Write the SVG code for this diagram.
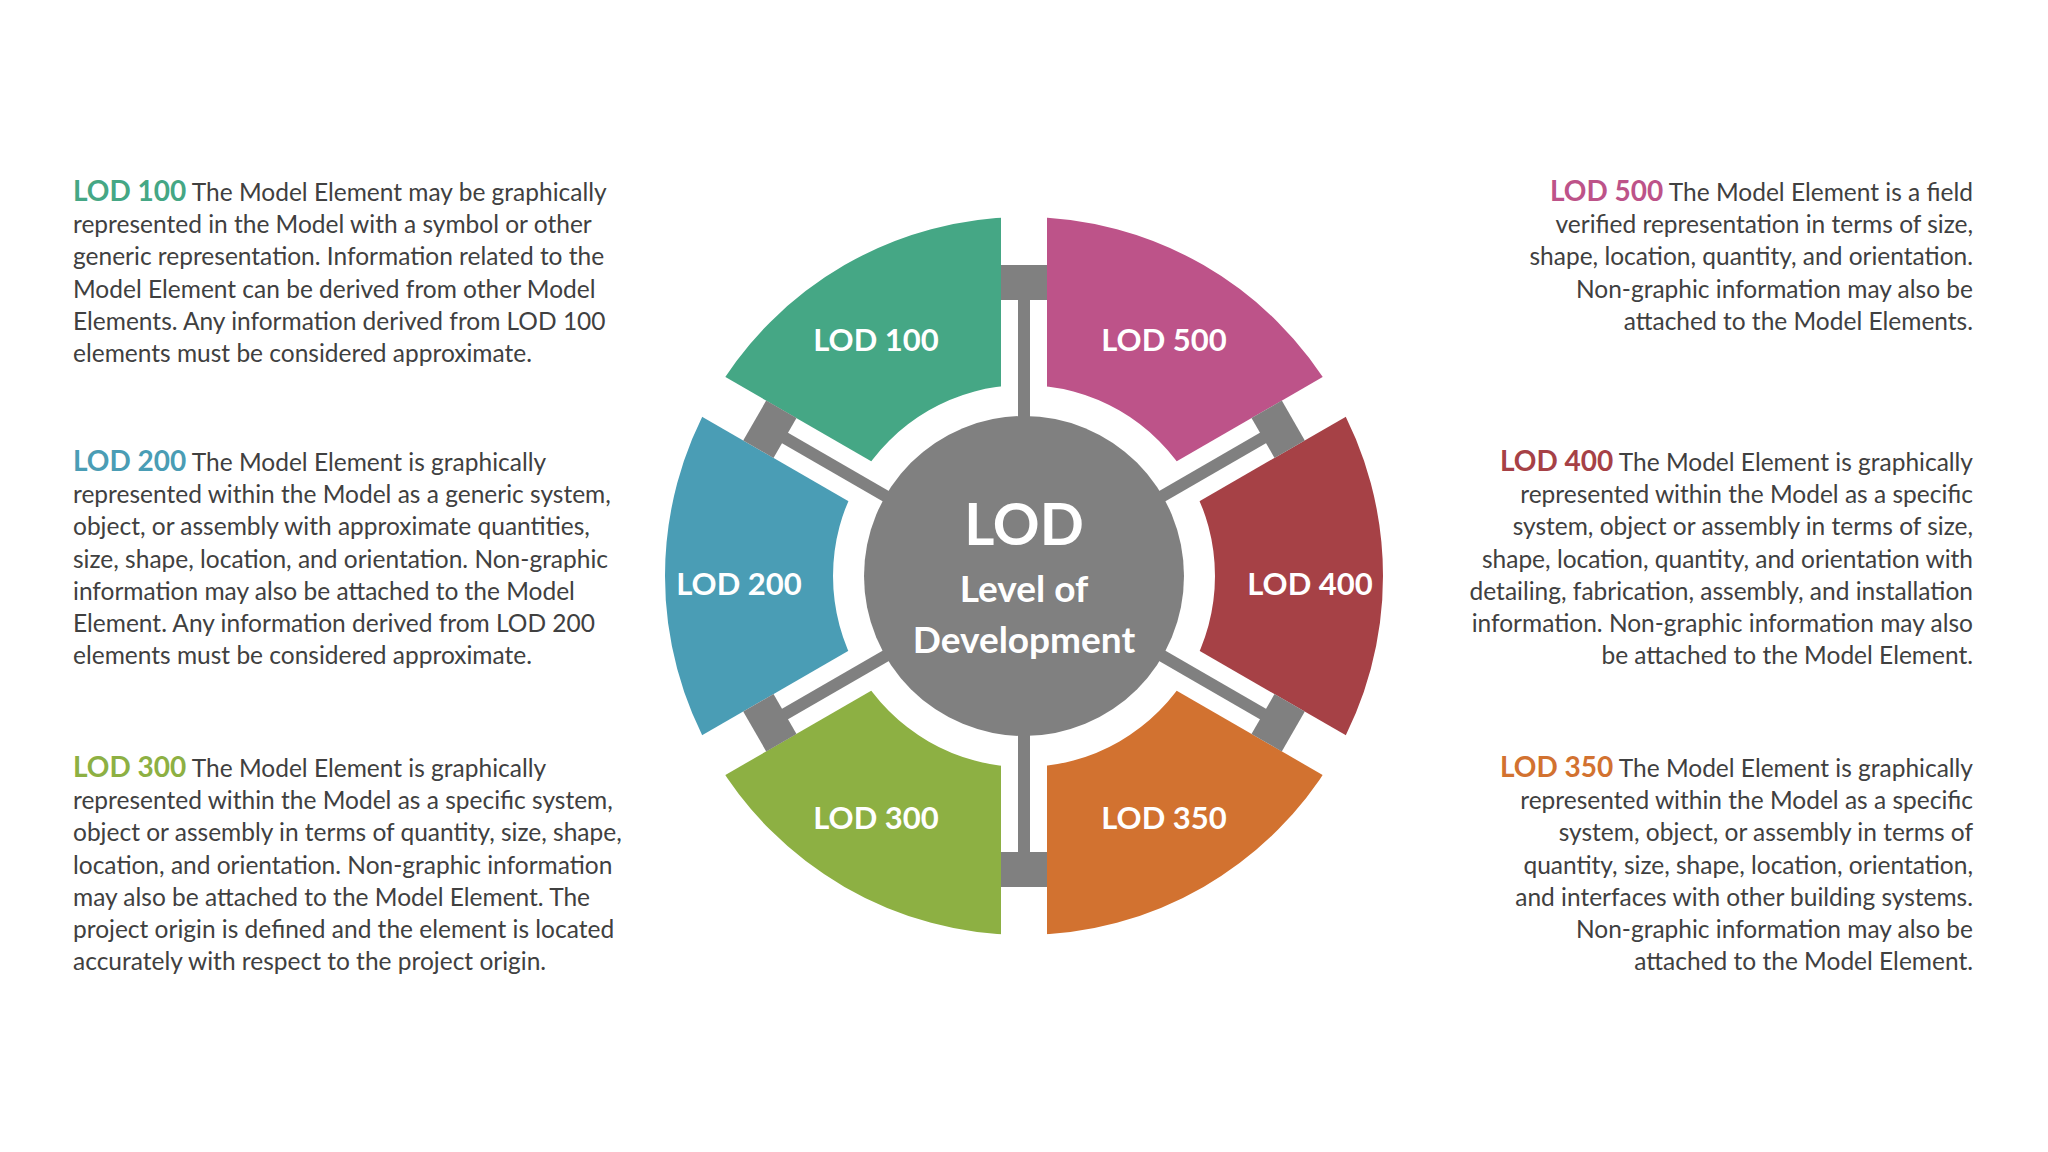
<svg xmlns="http://www.w3.org/2000/svg" width="2048" height="1152" viewBox="0 0 2048 1152">
<style>
.seg-l{font-family:Lato,"Open Sans",sans-serif;font-weight:bold;font-size:31px;fill:#fff;text-anchor:middle}
.body{font-family:Lato,"Open Sans",sans-serif;font-size:24.5px;fill:#404040}
.r{text-anchor:end}
.h{font-weight:bold;font-size:28px}
.gap{stroke:#fff;stroke-width:46}
.spoke{stroke:#808080;stroke-width:12}
.ring{stroke:#808080;stroke-width:46}
</style>
<rect width="2048" height="1152" fill="#fff"/>
<g id="segments">
<path id="lod100" d="M1024,217 A359,359 0 0 0 713.1,396.5 L858.6,480.5 A191,191 0 0 1 1024,385 Z" fill="#45a785"/>
<path id="lod200" d="M713.1,396.5 A359,359 0 0 0 713.1,755.5 L858.6,671.5 A191,191 0 0 1 858.6,480.5 Z" fill="#4a9db5"/>
<path id="lod300" d="M713.1,755.5 A359,359 0 0 0 1024,935 L1024,767 A191,191 0 0 1 858.6,671.5 Z" fill="#8db043"/>
<path id="lod350" d="M1024,935 A359,359 0 0 0 1334.9,755.5 L1189.4,671.5 A191,191 0 0 1 1024,767 Z" fill="#d27230"/>
<path id="lod400" d="M1334.9,755.5 A359,359 0 0 0 1334.9,396.5 L1189.4,480.5 A191,191 0 0 1 1189.4,671.5 Z" fill="#a64146"/>
<path id="lod500" d="M1334.9,396.5 A359,359 0 0 0 1024,217 L1024,385 A191,191 0 0 1 1189.4,480.5 Z" fill="#bd5389"/>
</g>
<g id="connectors">
<g class="gap">
<line x1="1024" y1="576" x2="1024" y2="170"/>
<line x1="1024" y1="576" x2="1024" y2="982"/>
<line x1="1024" y1="576" x2="672.4" y2="373"/>
<line x1="1024" y1="576" x2="672.4" y2="779"/>
<line x1="1024" y1="576" x2="1375.6" y2="373"/>
<line x1="1024" y1="576" x2="1375.6" y2="779"/>
</g>
<g class="spoke">
<line x1="1024" y1="576" x2="1024" y2="280"/>
<line x1="1024" y1="576" x2="1024" y2="872"/>
<line x1="1024" y1="576" x2="767.7" y2="428"/>
<line x1="1024" y1="576" x2="767.7" y2="724"/>
<line x1="1024" y1="576" x2="1280.3" y2="428"/>
<line x1="1024" y1="576" x2="1280.3" y2="724"/>
</g>
<g class="ring">
<line x1="1024" y1="300" x2="1024" y2="265"/>
<line x1="1024" y1="852" x2="1024" y2="887"/>
<line x1="785" y1="438" x2="754.7" y2="420.5"/>
<line x1="785" y1="714" x2="754.7" y2="731.5"/>
<line x1="1263" y1="438" x2="1293.3" y2="420.5"/>
<line x1="1263" y1="714" x2="1293.3" y2="731.5"/>
</g>
</g>
<g id="center">
<circle cx="1024" cy="576" r="160" fill="#808080"/>
<text x="1024" y="545" font-family="Lato,'Open Sans',sans-serif" font-weight="bold" font-size="58" fill="#fff" text-anchor="middle">LOD</text>
<text x="1024" y="602" font-family="Lato,'Open Sans',sans-serif" font-weight="bold" font-size="37" fill="#fff" text-anchor="middle">Level of</text>
<text x="1024" y="653" font-family="Lato,'Open Sans',sans-serif" font-weight="bold" font-size="37" fill="#fff" text-anchor="middle">Development</text>
</g>
<g id="labels">
<text class="seg-l" x="876" y="351">LOD 100</text>
<text class="seg-l" x="1164" y="351">LOD 500</text>
<text class="seg-l" x="739" y="595">LOD 200</text>
<text class="seg-l" x="1310" y="595">LOD 400</text>
<text class="seg-l" x="876" y="829">LOD 300</text>
<text class="seg-l" x="1164" y="829">LOD 350</text>
</g>
<g id="desc100" class="body">
<text x="73" y="201"><tspan class="h" fill="#45a785">LOD 100</tspan> The Model Element may be graphically</text>
<text x="73" y="233">represented in the Model with a symbol or other</text>
<text x="73" y="265">generic representation. Information related to the</text>
<text x="73" y="298">Model Element can be derived from other Model</text>
<text x="73" y="330">Elements. Any information derived from LOD 100</text>
<text x="73" y="362">elements must be considered approximate.</text>
</g>
<g id="desc200" class="body">
<text x="73" y="471"><tspan class="h" fill="#4a9db5">LOD 200</tspan> The Model Element is graphically</text>
<text x="73" y="503">represented within the Model as a generic system,</text>
<text x="73" y="535">object, or assembly with approximate quantities,</text>
<text x="73" y="568">size, shape, location, and orientation. Non-graphic</text>
<text x="73" y="600">information may also be attached to the Model</text>
<text x="73" y="632">Element. Any information derived from LOD 200</text>
<text x="73" y="664">elements must be considered approximate.</text>
</g>
<g id="desc300" class="body">
<text x="73" y="777"><tspan class="h" fill="#8db043">LOD 300</tspan> The Model Element is graphically</text>
<text x="73" y="809">represented within the Model as a specific system,</text>
<text x="73" y="841">object or assembly in terms of quantity, size, shape,</text>
<text x="73" y="874">location, and orientation. Non-graphic information</text>
<text x="73" y="906">may also be attached to the Model Element. The</text>
<text x="73" y="938">project origin is defined and the element is located</text>
<text x="73" y="970">accurately with respect to the project origin.</text>
</g>
<g id="desc500" class="body r">
<text x="1973" y="201"><tspan class="h" fill="#bd5389">LOD 500</tspan> The Model Element is a field</text>
<text x="1973" y="233">verified representation in terms of size,</text>
<text x="1973" y="265">shape, location, quantity, and orientation.</text>
<text x="1973" y="298">Non-graphic information may also be</text>
<text x="1973" y="330">attached to the Model Elements.</text>
</g>
<g id="desc400" class="body r">
<text x="1973" y="471"><tspan class="h" fill="#a64146">LOD 400</tspan> The Model Element is graphically</text>
<text x="1973" y="503">represented within the Model as a specific</text>
<text x="1973" y="535">system, object or assembly in terms of size,</text>
<text x="1973" y="568">shape, location, quantity, and orientation with</text>
<text x="1973" y="600">detailing, fabrication, assembly, and installation</text>
<text x="1973" y="632">information. Non-graphic information may also</text>
<text x="1973" y="664">be attached to the Model Element.</text>
</g>
<g id="desc350" class="body r">
<text x="1973" y="777"><tspan class="h" fill="#d27230">LOD 350</tspan> The Model Element is graphically</text>
<text x="1973" y="809">represented within the Model as a specific</text>
<text x="1973" y="841">system, object, or assembly in terms of</text>
<text x="1973" y="874">quantity, size, shape, location, orientation,</text>
<text x="1973" y="906">and interfaces with other building systems.</text>
<text x="1973" y="938">Non-graphic information may also be</text>
<text x="1973" y="970">attached to the Model Element.</text>
</g>
</svg>
